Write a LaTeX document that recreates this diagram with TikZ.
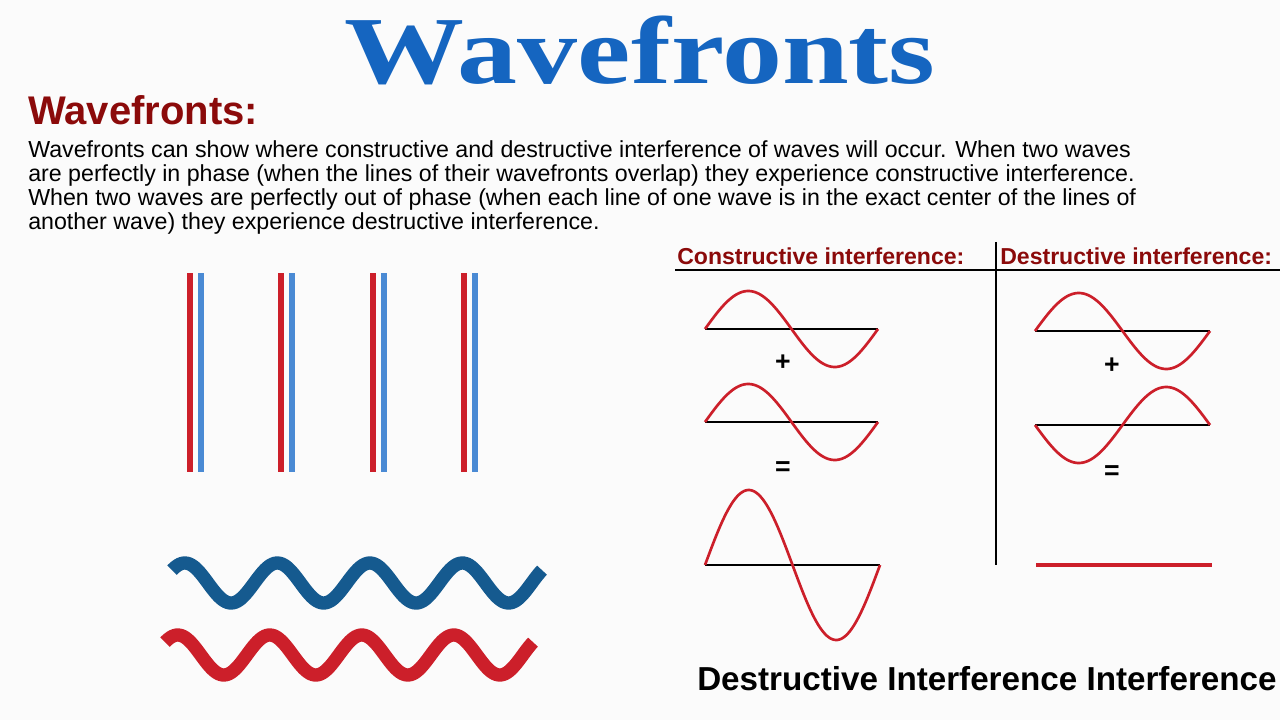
\documentclass[tikz,border=0pt]{standalone}
\usepackage{fontspec}
\setmainfont{Liberation Sans}
\newfontfamily\serifb[FakeStretch=1.25]{Liberation Serif}
\definecolor{tblue}{HTML}{1565C0}
\definecolor{dred}{HTML}{8B0A0A}
\definecolor{wred}{HTML}{CC1F2A}
\definecolor{wblue}{HTML}{4A8AD4}
\definecolor{dblue}{HTML}{155A8F}
\begin{document}
\begin{tikzpicture}[x=0.75pt,y=-0.75pt,
  sinw/.style={wred,line width=2pt},
  axis/.style={black,line width=1.3pt},
  hdr/.style={dred,font=\bfseries\fontsize{17.3}{20}\selectfont,anchor=west,inner sep=0}]
\fill[white!97!gray] (0,0) rectangle (1280,720);
\useasboundingbox (0,0) rectangle (1280,720);
\node[tblue,font=\serifb\bfseries\fontsize{72}{76}\selectfont] (title) at (640,50) {Wavefronts};
\node[dred,font=\bfseries\fontsize{30}{32}\selectfont,anchor=west,inner sep=0] (sub) at (28,110) {Wavefronts:};
\node[anchor=north west,inner sep=0,align=left,font=\fontsize{17.4}{18}\selectfont] (body) at (28,140) {Wavefronts can show where constructive and destructive interference of waves will occur. When two waves\\are perfectly in phase (when the lines of their wavefronts overlap) they experience constructive interference.\\When two waves are perfectly out of phase (when each line of one wave is in the exact center of the lines of\\another wave) they experience destructive interference.};
\foreach \x in {190,281,373,464}{
  \draw[wred,line width=4.5pt] (\x,273) -- (\x,472);
  \draw[wblue,line width=4.5pt] (\x+11,273) -- (\x+11,472);
}
\draw[dblue,line width=10pt,domain=0:370,samples=200,smooth] plot ({172+\x},{583-20*sin(\x/92.5*360+40)});
\draw[wred,line width=10pt,domain=0:368,samples=200,smooth] plot ({165+\x},{655-20*sin(\x/92*360+40)});
\node[hdr] (ch) at (677,256) {Constructive interference:};
\node[hdr] (dh) at (1000,256) {Destructive interference:};
\draw[axis] (675,270) -- (1280,270);
\draw[axis] (996,242) -- (996,565);
% constructive
\draw[axis] (705,329) -- (878,329);
\draw[sinw,domain=0:173,samples=100,smooth] plot ({705+\x},{329-38*sin(\x/173*360)});
\node[font=\bfseries\fontsize{20}{20}\selectfont] (p1) at (783,363) {+};
\draw[axis] (705,422) -- (878,422);
\draw[sinw,domain=0:173,samples=100,smooth] plot ({705+\x},{422-38*sin(\x/173*360)});
\node[font=\bfseries\fontsize{20}{20}\selectfont] (e1) at (783,469) {=};
\draw[axis] (705,565) -- (880,565);
\draw[sinw,domain=0:175,samples=100,smooth] plot ({705+\x},{565-75*sin(\x/175*360)});
% destructive
\draw[axis] (1035,331) -- (1210,331);
\draw[sinw,domain=0:175,samples=100,smooth] plot ({1035+\x},{331-38*sin(\x/175*360)});
\node[font=\bfseries\fontsize{20}{20}\selectfont] (p2) at (1112,366) {+};
\draw[axis] (1035,425) -- (1210,425);
\draw[sinw,domain=0:175,samples=100,smooth] plot ({1035+\x},{425+38*sin(\x/175*360)});
\node[font=\bfseries\fontsize{20}{20}\selectfont] (e2) at (1112,473) {=};
\draw[wred,line width=3.5pt] (1036,565) -- (1212,565);
\node[font=\bfseries\fontsize{24.9}{26}\selectfont,anchor=west,inner sep=0] (bt) at (697,679) {Destructive Interference Interference};
\end{tikzpicture}
\end{document}
